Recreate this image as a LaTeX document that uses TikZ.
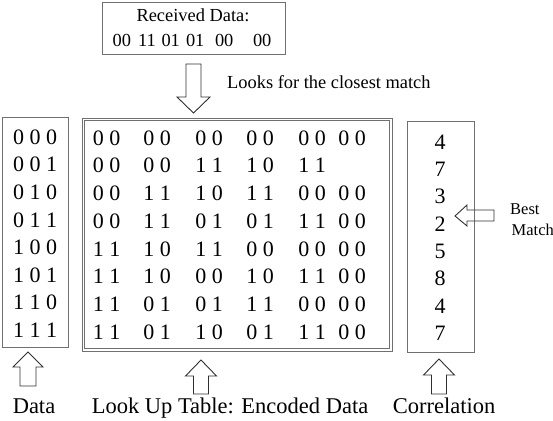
\documentclass[tikz,border=0pt]{standalone}
\usepackage{fontspec}
\setmainfont{Liberation Serif}
\definecolor{boxgray}{HTML}{707070}
\definecolor{arrgray}{HTML}{303030}
\tikzset{
  boxline/.style={draw=boxgray, line width=0.9pt},
  barrow/.style={draw=arrgray, line width=0.9pt, line join=miter},
  bigtxt/.style={inner sep=0pt, font=\fontsize{22}{26}\selectfont},
  labtxt/.style={inner sep=0pt, anchor=base, font=\fontsize{22.5}{27}\selectfont},
  midtxt/.style={inner sep=0pt, font=\fontsize{18.4}{22}\selectfont},
  smalltxt/.style={inner sep=0pt, anchor=west, font=\fontsize{16.5}{20}\selectfont},
}
\begin{document}
\begin{tikzpicture}[x=1pt,y=-1pt]
\useasboundingbox (0,0) rectangle (553,420);
% Received data box
\draw[boxline] (102.5,2) rectangle (285.5,54);
\node[midtxt] (rtitle) at (193,15) {Received Data:};
\node[midtxt] (rdata) at (192,40) {00\hspace{7.2pt}11\hspace{5.6pt}01\hspace{6.1pt}01\hspace{10.6pt}00\hspace{19.6pt}00};
% down arrow
\draw[barrow] (193.5,113) -- ++(16.5,-16) -- ++(-9,0) -- ++(0,-33) -- ++(-15,0) -- ++(0,33) -- ++(-9,0) -- cycle;
\node[midtxt, anchor=west] (looks) at (227,82) {Looks for the closest match};
% Data box
\draw[boxline] (2,117) rectangle (68,347);
\foreach \t [count=\i] in {0 0 0,0 0 1,0 1 0,0 1 1,1 0 0,1 0 1,1 1 0,1 1 1}
  \node[bigtxt] (d\i) at (35,{137+27.6*(\i-1)}) {\t};
% Lookup box (double)
\draw[boxline] (82,118) rectangle (392,351);
\draw[boxline] (84.5,120.5) rectangle (389.5,348.5);
\foreach \a/\b/\c/\d/\e/\f [count=\i] in {
  0 0/0 0/0 0/0 0/0 0/0 0,
  0 0/0 0/1 1/1 0/1 1/{},
  0 0/1 1/1 0/1 1/0 0/0 0,
  0 0/1 1/0 1/0 1/1 1/0 0,
  1 1/1 0/1 1/0 0/0 0/0 0,
  1 1/1 0/0 0/1 0/1 1/0 0,
  1 1/0 1/0 1/1 1/0 0/0 0,
  1 1/0 1/1 0/0 1/1 1/0 0}{
  \pgfmathsetmacro{\yy}{138+27.7*(\i-1)}
  \node[bigtxt] (t\i a) at (106.7,\yy) {\a};
  \node[bigtxt] (t\i b) at (157,\yy) {\b};
  \node[bigtxt] (t\i c) at (209,\yy) {\c};
  \node[bigtxt] (t\i d) at (260,\yy) {\d};
  \node[bigtxt] (t\i e) at (312,\yy) {\e};
  \node[bigtxt] (t\i f) at (352,\yy) {\f};
}
% Correlation box
\draw[boxline] (407,121) rectangle (474,352);
\foreach \t [count=\i] in {4,7,3,2,5,8,4,7}
  \node[bigtxt] (k\i) at (440,{142+27.3*(\i-1)}) {\t};
% Best match arrow
\draw[barrow] (455,216) -- ++(12,-11) -- ++(0,5) -- ++(27,0) -- ++(0,11) -- ++(-27,0) -- ++(0,5) -- cycle;
\node[smalltxt] (best) at (510,209) {Best};
\node[smalltxt] (match) at (511.5,230) {Match};
% up arrows
\draw[barrow] (28,352) -- ++(15,15) -- ++(-7,0) -- ++(0,19) -- ++(-16,0) -- ++(0,-19) -- ++(-7,0) -- cycle;
\draw[barrow] (201,360) -- ++(15.5,16) -- ++(-8,0) -- ++(0,18) -- ++(-15,0) -- ++(0,-18) -- ++(-8,0) -- cycle;
\draw[barrow] (439,359) -- ++(15.5,16) -- ++(-8,0) -- ++(0,19) -- ++(-15,0) -- ++(0,-19) -- ++(-8,0) -- cycle;
% labels
\node[labtxt] (ldata) at (34,413) {Data};
\node[labtxt] (llut) at (230,413) {Look Up Table: Encoded Data};
\node[labtxt] (lcorr) at (444,413) {Correlation};
\end{tikzpicture}
\end{document}
